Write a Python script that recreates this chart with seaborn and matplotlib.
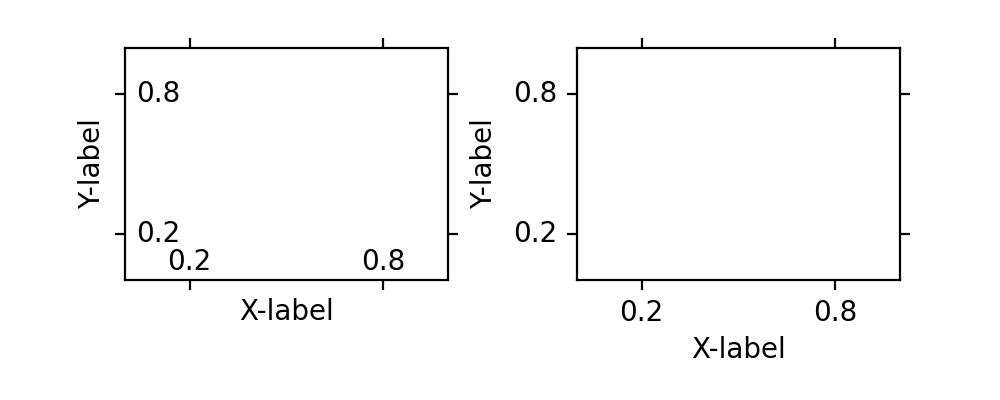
import matplotlib
matplotlib.use("Agg")
import matplotlib.pyplot as plt
import seaborn as sns

# axis content
tick_values = [0.2, 0.8]
axis_limits = [0, 1]
x_label = "X-label"
y_label = "Y-label"

sns.set_theme(style="ticks", context="notebook", rc={
    "axes.labelsize": 10,
    "xtick.labelsize": 10,
    "ytick.labelsize": 10,
    "axes.edgecolor": "black",
    "axes.labelcolor": "black",
    "text.color": "black",
    "xtick.color": "black",
    "ytick.color": "black",
    "axes.linewidth": 0.8,
    "xtick.major.size": 3.5,
    "ytick.major.size": 3.5,
    "xtick.major.width": 0.8,
    "ytick.major.width": 0.8,
    "xtick.major.pad": 3.5,
    "ytick.major.pad": 3.5,
    "axes.labelpad": 4.0,
})
plt.rcParams["font.family"] = ["DejaVu Sans"]

fig, axes = plt.subplots(1, 2, figsize=(5, 2), dpi=200)
fig.subplots_adjust(left=0.125, right=0.9, bottom=0.3, top=0.88, wspace=0.4)

for ax in axes:
    ax.set_xlim(axis_limits)
    ax.set_ylim(axis_limits)
    ax.set_xticks(tick_values)
    ax.set_yticks(tick_values)
    ax.set_xticklabels([str(v) for v in tick_values])
    ax.set_yticklabels([str(v) for v in tick_values], va="center")
    ax.tick_params(direction="out", top=True, right=True)
    ax.set_xlabel(x_label, labelpad=3.0)

# left panel: tick labels pushed inside the axes
axes[0].tick_params(axis="x", pad=-15)
axes[0].tick_params(axis="y", pad=-23.4)
axes[0].set_ylabel(y_label, labelpad=3.5)
axes[1].set_ylabel(y_label, labelpad=5.5)

plt.savefig("out.png", dpi=200)
plt.close()
